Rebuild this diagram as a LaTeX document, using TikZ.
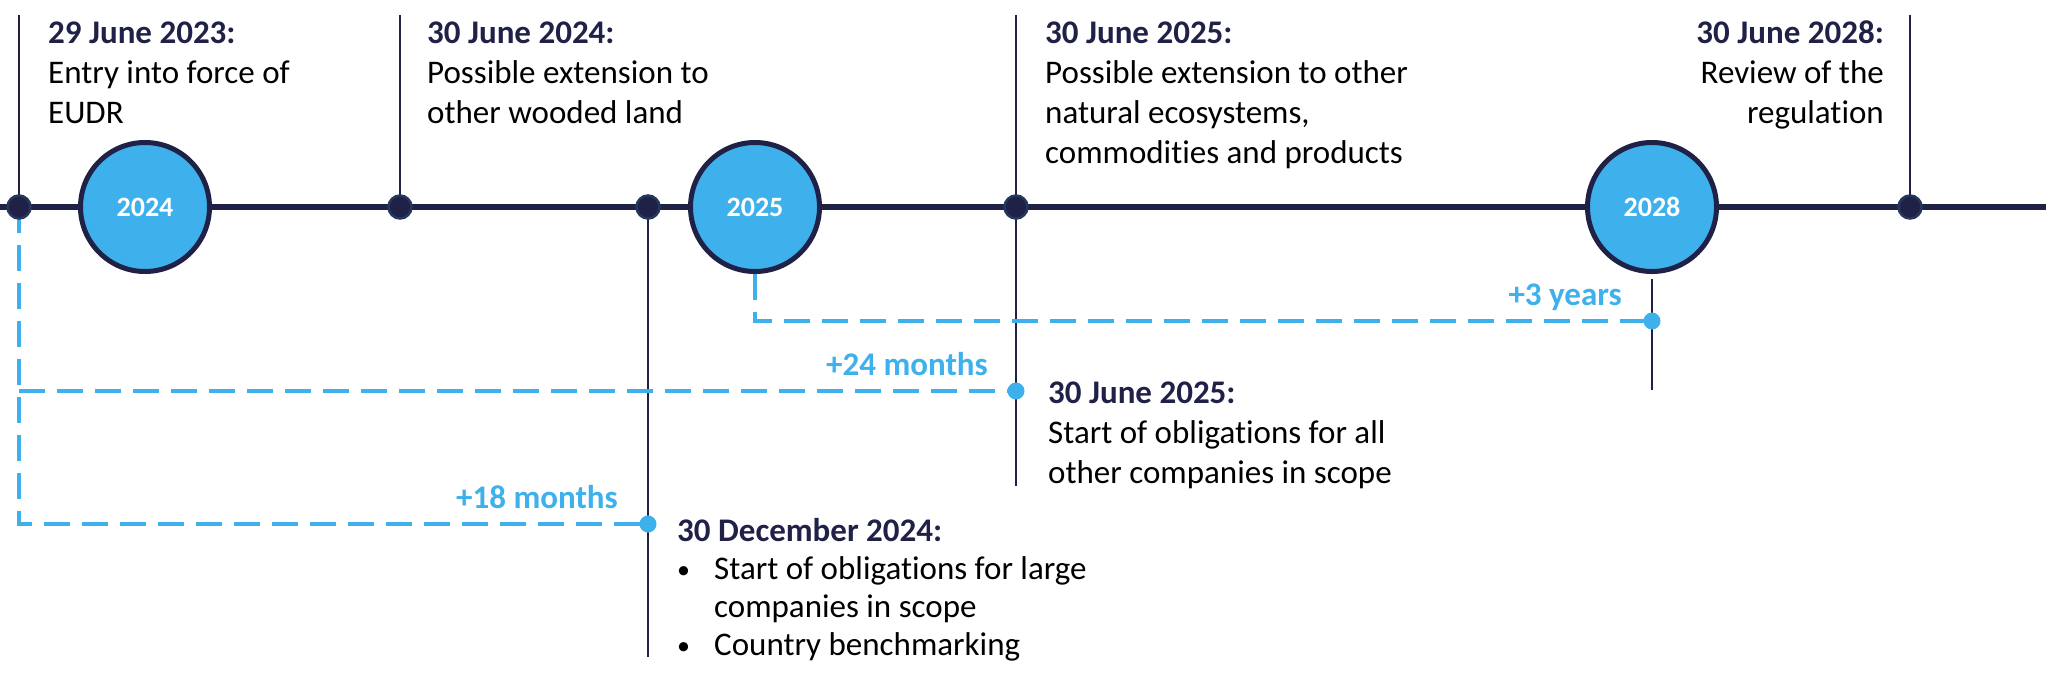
\documentclass[tikz,border=0pt]{standalone}
\usepackage{fontspec}
\setmainfont{Carlito}[Ligatures={NoCommon}]
\usetikzlibrary{backgrounds}
\definecolor{navy}{RGB}{31,33,71}
\definecolor{skyb}{RGB}{62,177,236}
\definecolor{dotrim}{RGB}{38,55,92}
\newcommand{\hd}[1]{\rule{0pt}{26pt}\textbf{\color{navy}#1}}
\newcommand{\bul}{\makebox[37pt][l]{\raisebox{1pt}{\fontsize{26}{30}\selectfont •}}}
\begin{document}
\begin{tikzpicture}[x=1pt,y=-1pt,
  mainline/.style={navy,line width=6pt},
  tickline/.style={navy,line width=2.6pt},
  dashblue/.style={skyb,line width=3.6pt,dash pattern=on 26pt off 12pt},
  navydot/.style={circle,fill=navy,draw=dotrim,line width=2.5pt,minimum size=23pt,inner sep=0pt},
  bluedot/.style={circle,fill=skyb,minimum size=17pt,inner sep=0pt},
  yearcircle/.style={circle,fill=skyb,draw=navy,line width=5pt,minimum size=129pt,inner sep=0pt,text=white,font=\fontsize{28}{34}\selectfont\bfseries},
  lbl/.style={font=\fontsize{33}{40}\selectfont,align=left,inner sep=0pt,anchor=north west},
  lblr/.style={font=\fontsize{33}{40}\selectfont,align=right,inner sep=0pt,anchor=north east},
  gaplbl/.style={text=skyb,font=\fontsize{33}{40}\selectfont\bfseries,inner sep=0pt,anchor=base east}
]
\useasboundingbox (0,0) rectangle (2048,685);

% positions on the main line
\coordinate (L0) at (0,207);
\coordinate (L1) at (2046,207);
\node[navydot] (d1) at (19,207) {};
\node[navydot] (d2) at (400,207) {};
\node[navydot] (d3) at (648,207) {};
\node[navydot] (d4) at (1016,207) {};
\node[navydot] (d5) at (1910,207) {};
\node[yearcircle] (c1) at (145,207) {2024};
\node[yearcircle] (c2) at (755,207) {2025};
\node[yearcircle] (c3) at (1652,207) {2028};

% tick ends
\coordinate (u1) at (19,15);
\coordinate (u2) at (400,15);
\coordinate (u4) at (1016,15);
\coordinate (u5) at (1910,15);
\coordinate (b3) at (648,657);
\coordinate (b4) at (1016,486);
\coordinate (t3) at (1652,279);
\coordinate (b5) at (1652,390);
\coordinate (k1) at (19,391);

% blue end points
\node[bluedot] (e1) at (648,524) {};
\node[bluedot] (e2) at (1016,391) {};
\node[bluedot] (e3) at (1652,321) {};

\begin{scope}[on background layer]
  \draw[mainline] (L0) -- (L1);
  \draw[tickline] (u1) -- (d1.center);
  \draw[tickline] (u2) -- (d2.center);
  \draw[tickline] (u4) -- (b4);
  \draw[tickline] (u5) -- (d5.center);
  \draw[tickline] (d3.center) -- (b3);
  \draw[tickline] (t3) -- (b5);
  \draw[dashblue] (d1.center) |- (e1.center);
  \draw[dashblue] (k1) -- (e2.center);
  \draw[dashblue] (c2.south) |- (e3.center);
\end{scope}

% texts
\node[lbl] (txt1) at (48,17) {\hd{29 June 2023:}\\Entry into force of\\EUDR};
\node[lbl] (txt2) at (427,17) {\hd{30 June 2024:}\\Possible extension to\\other wooded land};
\node[lbl] (txt3) at (1045,17) {\hd{30 June 2025:}\\Possible extension to other\\natural ecosystems,\\commodities and products};
\node[lblr] (txt4) at (1884,17) {\hd{30 June 2028:}\\Review of the\\regulation};
\node[lbl] (txt5) at (1048,377) {\hd{30 June 2025:}\\Start of obligations for all\\other companies in scope};
\node[lbl,font=\fontsize{33}{38}\selectfont] (txt6) at (677,515) {\hd{30 December 2024:}\\\bul Start of obligations for large\\\hspace*{37pt}companies in scope\\\bul Country benchmarking};

\node[gaplbl] (g1) at (1622,305) {+3 years};
\node[gaplbl] (g2) at (988,375) {+24 months};
\node[gaplbl] (g3) at (618,508) {+18 months};
\end{tikzpicture}
\end{document}
